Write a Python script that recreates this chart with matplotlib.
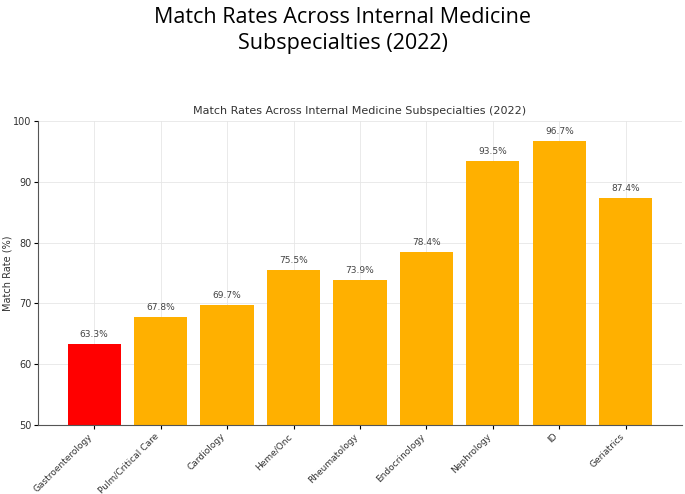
import numpy as np
import matplotlib.pyplot as plt

specialties = ["Gastroenterology", "Pulm/Critical Care", "Cardiology", "Heme/Onc",
               "Rheumatology", "Endocrinology", "Nephrology", "ID", "Geriatrics"]
match_rates = [63.3, 67.8, 69.7, 75.5, 73.9, 78.4, 93.5, 96.7, 87.4]
highlight = "Gastroenterology"

colors = ["#FF0000" if s == highlight else "#FFB000" for s in specialties]

fig = plt.figure(figsize=(6.85, 4.94), dpi=100)
fig.suptitle("Match Rates Across Internal Medicine\nSubspecialties (2022)",
             fontsize=15.5, family="Open Sans", y=0.985, linespacing=1.3)
ax = fig.add_axes([0.056, 0.14, 0.939, 0.615])

x = np.arange(len(specialties))
bars = ax.bar(x, match_rates, color=colors, width=0.8, zorder=2)
for b, v in zip(bars, match_rates):
    ax.text(b.get_x() + b.get_width() / 2, v + 0.8, f"{v}%", ha="center", va="bottom",
            fontsize=6.5, color="#444444")

ax.set_ylim(50, 100)
ax.set_xticks(x)
ax.set_xticklabels(specialties, rotation=45, ha="right", fontsize=6.5, color="#333333")
ax.tick_params(axis="y", labelsize=7, labelcolor="#333333", pad=2, length=3)
ax.tick_params(axis="x", pad=2, length=3)
ax.set_ylabel("Match Rate (%)", fontsize=7, color="#333333")
ax.yaxis.set_label_coords(-0.04, 0.5)
ax.set_title("Match Rates Across Internal Medicine Subspecialties (2022)", fontsize=8,
             color="#333333", pad=5)
ax.grid(True, color="#e6e6e6", linewidth=0.6, zorder=0)
ax.spines["top"].set_visible(False)
ax.spines["right"].set_visible(False)
ax.spines["left"].set_color("#555555")
ax.spines["bottom"].set_color("#555555")

plt.savefig("out.png", dpi=100)
